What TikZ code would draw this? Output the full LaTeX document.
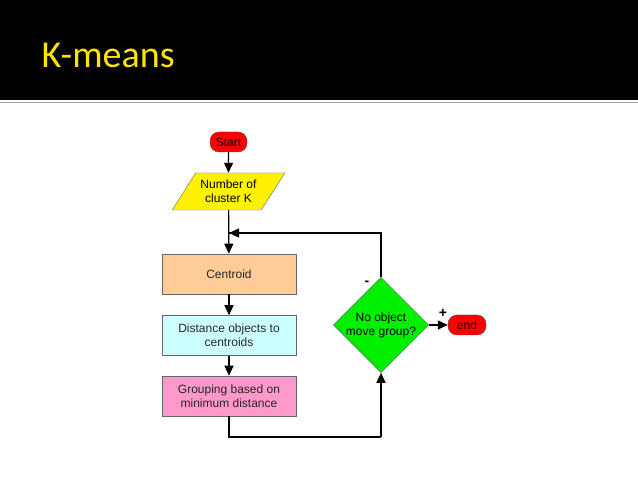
\documentclass[tikz,border=0pt]{standalone}
\usepackage{fontspec}
\setmainfont{Liberation Sans}
\newfontfamily\titlefont{Carlito}
\usetikzlibrary{shapes.geometric,arrows.meta}
\begin{document}
\begin{tikzpicture}[x=1pt,y=-1pt,
  box/.style={draw=black!60,line width=0.6pt,minimum width=134pt,minimum height=40pt,align=center,font=\fontsize{12}{14}\selectfont,text=black!85},
  term/.style={draw=black!70,rounded corners=9pt,fill=red,minimum height=20pt,font=\fontsize{12}{14}\selectfont,inner sep=2pt},
  arr/.style={line width=1.2pt,-{Triangle[length=10pt,width=9pt]}},
  ln/.style={line width=1.2pt}]
\useasboundingbox (0,0) rectangle (638,478);
\fill[black] (0,0) rectangle (638,100);
\draw[black!40,line width=1.5pt] (0,102.5) -- (638,102.5);
\node[anchor=base west,text=yellow!85!orange,font=\titlefont\fontsize{38}{40}\selectfont] (title) at (38,68) {K-means};
\node[term,minimum width=37pt] (start) at (228.5,142) {Start};
\node[trapezium,trapezium left angle=50,trapezium right angle=130,trapezium stretches=true,fill=yellow,draw=black!60,minimum width=113pt,minimum height=37pt,align=center,font=\fontsize{12}{14}\selectfont,inner sep=1pt] (num) at (228.5,191.5) {Number of\\cluster K};
\node[box,fill={rgb,255:red,255;green,204;blue,153}] (cen) at (229,274) {Centroid};
\node[box,fill={rgb,255:red,204;green,255;blue,255}] (dist) at (229,335.5) {Distance objects to\\centroids};
\node[box,fill={rgb,255:red,255;green,153;blue,204}] (grp) at (229,396) {Grouping based on\\minimum distance};
\node[diamond,draw=black!60,fill={rgb,255:red,0;green,240;blue,0},minimum width=94pt,minimum height=60pt,inner sep=0pt,align=center,font=\fontsize{12}{14}\selectfont] (dia) at (381,325) {No object\\move group?};
\node[term,minimum width=38pt] (end) at (467,325) {end};
\coordinate (m) at (229,233);
\coordinate (b) at (381,437);
\draw[arr] (start) -- (num);
\draw[arr] (num) -- (cen);
\draw[arr] (cen) -- (dist);
\draw[arr] (dist) -- (grp);
\draw[arr] (dia) -- (end);
\draw[ln] (dia.north) |- (m);
\draw[arr] (381,233) -- (m);
\draw[ln] (grp.south) |- (b);
\draw[arr] (b) -- (dia.south);
\node[font=\fontsize{14}{14}\selectfont\bfseries] (minus) at (367,283) {-};
\node[font=\fontsize{14}{14}\selectfont\bfseries] (plus) at (443,313) {+};
\end{tikzpicture}
\end{document}
